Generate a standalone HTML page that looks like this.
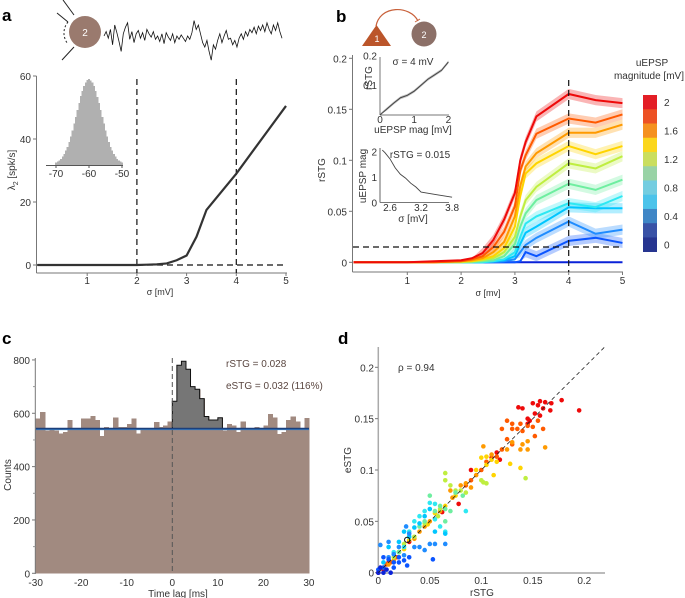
<!DOCTYPE html>
<html><head><meta charset="utf-8"><style>
html,body{margin:0;padding:0;background:#fff;}
svg{display:block;font-family:"Liberation Sans",Arial,sans-serif;}
</style></head><body>
<svg id="fig" width="685" height="598" viewBox="0 0 685 598" xmlns="http://www.w3.org/2000/svg">
<g id="A"></g>
<g id="B"></g>
<g id="C"></g>
<g id="D"></g>
</svg>
<script>
// ---------- data ----------
// panel a
const aSigma = [0, 0.5, 1, 1.5, 2, 2.2, 2.4, 2.6, 2.8, 3.0, 3.2, 3.4, 4, 5];
const aRate = [0, 0, 0, 0, 0, 0.1, 0.2, 0.5, 1.5, 3, 9, 17.5, 29, 50.5];
const aYTicks = [0, 20, 40, 60];
const aXTicks = [1, 2, 3, 4, 5];
const histCenters = [-70,-69.5,-69,-68.5,-68,-67.5,-67,-66.5,-66,-65.5,-65,-64.5,-64,-63.5,-63,-62.5,-62,-61.5,-61,-60.5,-60,-59.5,-59,-58.5,-58,-57.5,-57,-56.5,-56,-55.5,-55,-54.5,-54,-53.5,-53,-52.5,-52,-51.5,-51,-50.5,-50];
const histVals = [0.03,0.04,0.05,0.07,0.1,0.13,0.17,0.21,0.27,0.33,0.4,0.48,0.56,0.64,0.72,0.8,0.86,0.92,0.96,0.99,1.0,0.98,0.96,0.92,0.86,0.79,0.72,0.64,0.56,0.48,0.4,0.33,0.27,0.21,0.17,0.13,0.1,0.07,0.05,0.04,0.03];
const traceVals = [0,4,-2,6,-8,10,3,-5,-14,2,8,12,-3,4,-6,2,5,-2,3,-4,6,2,-1,4,-3,0,-5,2,-7,3,-1,-4,2,-6,0,-3,1,-2,-5,0,-3,3,14,6,10,2,-6,-10,-4,-14,-22,-8,-12,-4,2,-6,0,5,-3,-2,-8,-4,-10,-2,2,-3,4,0,6,3,8,2,9,5,10,4,12,6,2,10,5,12,4,-2];
// panel b
const bSigma = [0, 0.5, 1, 1.5, 2, 2.2, 2.4, 2.6, 2.8, 3.0, 3.1, 3.2, 3.4, 4, 4.5, 5];
const bMags = [0, 0.2, 0.4, 0.6, 0.8, 1.0, 1.2, 1.4, 1.6, 1.8, 2.0];
const bSeries = [
 [0,0,0,0,0,0,0,0,0,0,0,0,0,0,0,0],
 [0,0,0,0,0,0,0,0,0,0,0.001,0.01,0.006,0.021,0.024,0.019],
 [0,0,0,0,0,0,0,0,0.001,0.003,0.01,0.017,0.024,0.040,0.028,0.032],
 [0,0,0,0,0,0,0,0.001,0.002,0.006,0.018,0.029,0.035,0.054,0.053,0.053],
 [0,0,0,0,0,0,0,0.001,0.003,0.01,0.025,0.038,0.045,0.058,0.054,0.065],
 [0,0,0,0,0,0,0.001,0.002,0.006,0.018,0.035,0.048,0.061,0.077,0.071,0.081],
 [0,0,0,0,0,0.001,0.002,0.004,0.01,0.025,0.045,0.061,0.074,0.097,0.092,0.104],
 [0,0,0,0,0.001,0.001,0.003,0.006,0.014,0.035,0.065,0.087,0.097,0.114,0.106,0.114],
 [0,0,0,0,0.001,0.002,0.004,0.01,0.02,0.045,0.075,0.094,0.107,0.127,0.127,0.135],
 [0,0,0,0,0.001,0.003,0.006,0.015,0.03,0.055,0.09,0.105,0.126,0.141,0.137,0.145],
 [0,0,0,0.001,0.002,0.004,0.009,0.022,0.042,0.068,0.1,0.118,0.143,0.165,0.159,0.156]
];
const bYTicks = [0, 0.05, 0.1, 0.15, 0.2];
const bYTickLabels = ["0", "0.05", "0.1", "0.15", "0.2"];
const bXTicks = [1, 2, 3, 4, 5];
const lineColors = ["#0a22d8","#0b55ff","#1f8cff","#00c6ff","#2ee8f2","#6eeea0","#bfee40","#ffd400","#ff9a00","#ff5a00","#ee0a0a"];
const barColors = ["#273590","#3952a6","#3f86c6","#4cc3ea","#74cde0","#99d3a6","#cade5e","#fbd61c","#f5911f","#ed5124","#e31e26"];
const cbLabels = ["2", "1.6", "1.2", "0.8", "0.4", "0"];
const in1Mag = [0, 0.2, 0.4, 0.6, 0.8, 1.0, 1.2, 1.4, 1.6, 1.8, 2.0];
const in1Val = [0, 0.02, 0.04, 0.058, 0.066, 0.08, 0.1, 0.12, 0.135, 0.15, 0.178];
const in2Sigma = [2.45, 2.5, 2.6, 2.7, 2.8, 2.9, 3.0, 3.1, 3.2, 3.5, 3.8];
const in2Mag = [2.05, 1.95, 1.7, 1.35, 1.1, 0.95, 0.75, 0.6, 0.4, 0.3, 0.2];
// panel c
const cBins = [-30,-29,-28,-27,-26,-25,-24,-23,-22,-21,-20,-19,-18,-17,-16,-15,-14,-13,-12,-11,-10,-9,-8,-7,-6,-5,-4,-3,-2,-1,0,1,2,3,4,5,6,7,8,9,10,11,12,13,14,15,16,17,18,19,20,21,22,23,24,25,26,27,28,29];
const cCounts = [580,605,536,540,535,525,530,575,540,540,580,580,590,575,515,548,540,585,548,548,560,580,525,540,538,540,568,548,555,570,645,780,795,765,700,690,655,588,575,575,583,535,560,555,530,570,540,540,548,540,555,598,585,522,530,575,588,570,540,582];
const cExcessStart = 0, cExcessEnd = 11;
const cBaseline = 542;
const cYTicks = [0, 200, 400, 600, 800];
const cXTicks = [-30, -20, -10, 0, 10, 20, 30];
// panel d
const dX = [0.14,0.145,0.15,0.155,0.157,0.16,0.162,0.168,0.167,0.178,0.195,0.152,0.147,0.115,0.11,0.118,0.09,0.078,0.062,0.03,0.01,0,0.005,0.136,0.145,0.157,
 0.125,0.13,0.135,0.14,0.145,0.15,0.155,0.16,0.125,0.13,0.12,0.115,0.105,0.1,0.09,0.085,0.13,0.12,0.138,0.152,0.008,0.012,0.018,0.02,
 0.125,0.13,0.14,0.145,0.138,0.145,0.162,0.102,0.11,0.095,0.085,0.09,0.08,0.07,0.072,0.06,0.05,0.04,0.035,0.045,0.02,0.015,0.01,0.005,
 0.1,0.105,0.11,0.115,0.105,0.128,0.138,0.112,0.095,0.075,0.065,0.055,0.048,0.03,0.02,0.025,
 0.065,0.065,0.07,0.075,0.08,0.1,0.102,0.105,0.143,0.085,0.06,0.058,0.045,0.035,0.025,0.015,
 0.05,0.06,0.065,0.07,0.055,0.045,0.04,0.03,0.065,0.02,0.075,0.082,
 0.05,0.055,0.045,0.04,0.035,0.03,0.06,0.085,0.065,0.025,0.015,0.055,
 0.05,0.045,0.04,0.035,0.025,0.02,0.01,0.015,0.005,0.03,0.055,0.065,
 0.027,0.03,0.035,0.04,0.045,0.05,0.055,0.065,0.02,0.015,0.01,0.002,0.025,0.01,
 0.005,0.01,0.015,0.02,0.025,0.028,0.03,0.015,0.005,0,0.053,0.02,
 0,0.005,0.012,0.002,0.008];
const dY = [0.16,0.15,0.165,0.163,0.167,0.16,0.166,0.165,0.158,0.168,0.158,0.155,0.148,0.117,0.112,0.11,0.1,0.067,0.059,0.03,0.01,0,0.003,0.161,0.145,0.153,
 0.148,0.14,0.14,0.138,0.143,0.142,0.148,0.14,0.13,0.125,0.12,0.113,0.108,0.1,0.09,0.085,0.145,0.14,0.145,0.133,0.008,0.01,0.015,0.02,
 0.12,0.127,0.125,0.128,0.12,0.12,0.122,0.123,0.115,0.095,0.087,0.083,0.085,0.08,0.073,0.06,0.05,0.04,0.033,0.045,0.02,0.012,0.008,0.005,
 0.112,0.113,0.11,0.108,0.105,0.106,0.102,0.095,0.1,0.075,0.065,0.058,0.047,0.032,0.02,0.023,
 0.097,0.09,0.085,0.08,0.08,0.09,0.088,0.087,0.092,0.078,0.062,0.055,0.048,0.035,0.028,0.015,
 0.075,0.065,0.062,0.06,0.06,0.05,0.045,0.035,0.05,0.02,0.078,0.075,
 0.068,0.067,0.06,0.055,0.05,0.04,0.045,0.06,0.04,0.025,0.02,0.052,
 0.062,0.055,0.048,0.044,0.04,0.03,0.025,0.018,0.01,0.035,0.04,0.038,
 0.045,0.038,0.025,0.025,0.022,0.028,0.028,0.028,0.025,0.018,0.03,0.027,0.017,0.015,
 0.015,0.013,0.01,0.015,0.012,0.007,0.015,0.005,0.005,0.003,0.013,0.01,
 0,0,0,0.005,0.003];
const dLevel = [].concat(Array(26).fill(10),Array(24).fill(9),Array(24).fill(8),Array(16).fill(7),Array(16).fill(6),Array(12).fill(5),Array(12).fill(4),Array(12).fill(3),Array(14).fill(2),Array(12).fill(1),Array(5).fill(0));
const dTicks = [0, 0.05, 0.1, 0.15, 0.2];
const dTickLabels = ["0", "0.05", "0.1", "0.15", "0.2"];

// ---------- helpers ----------
const NS = "http://www.w3.org/2000/svg";
function mk(parent, tag, attrs, text) {
  const e = document.createElementNS(NS, tag);
  for (const k in attrs) e.setAttribute(k, attrs[k]);
  if (text !== undefined) e.textContent = text;
  parent.appendChild(e);
  return e;
}
function pathD(xs, ys) { return xs.map((x, i) => (i ? "L" : "M") + x.toFixed(2) + "," + ys[i].toFixed(2)).join(""); }

// ---------- panel a ----------
(function () {
  const g = document.getElementById("A");
  const xs = v => 37.5 + v * 49.7, ys = v => 265 - v * 3.15;
  let t = mk(g, "text", {x: 2, y: 21, "font-size": 17, "font-weight": "bold"}, "a");
  
  
  const ng = mk(g, "g", {});
  
  
  mk(ng, "circle", {cx: 85, cy: 32, r: 16, fill: "#9a7a6e"});
  mk(ng, "text", {x: 85, y: 36, "font-size": 10, fill: "#fff", "text-anchor": "middle"}, "2");
  mk(ng, "path", {d: "M68,22 A17,17 0 0 0 68,44", fill: "none", stroke: "#222", "stroke-dasharray": "2,2"});
  mk(ng, "line", {x1: 63, y1: 0, x2: 74, y2: 15, stroke: "#222"});
  mk(ng, "line", {x1: 57, y1: 13, x2: 68, y2: 22, stroke: "#222"});
  mk(ng, "line", {x1: 62, y1: 60, x2: 74, y2: 47, stroke: "#222"});
  const tx = traceVals.map((v, i) => 104 + i * 178 / (traceVals.length - 1));
  const ty = traceVals.map(v => 36 - v * 1.1);
  let tr = mk(g, "path", {d: pathD(tx, ty), fill: "none", stroke: "#111", "stroke-width": 0.8});
  
  
  mk(g, "line", {x1: 36.5, y1: 76, x2: 36.5, y2: 273, stroke: "#777"});
  mk(g, "line", {x1: 36.5, y1: 273, x2: 287, y2: 273, stroke: "#777"});
  aYTicks.forEach(v => {
    mk(g, "line", {x1: 33, y1: ys(v), x2: 36.5, y2: ys(v), stroke: "#777"});
    let l = mk(g, "text", {x: 31, y: ys(v) + 4, "font-size": 10, "text-anchor": "end", fill: "#333"}, String(v));
    
    
  });
  aXTicks.forEach(v => {
    mk(g, "line", {x1: xs(v), y1: 273, x2: xs(v), y2: 276, stroke: "#777"});
    let l = mk(g, "text", {x: xs(v), y: 284, "font-size": 10, "text-anchor": "middle", fill: "#333"}, String(v));
    
    
  });
  let xl = mk(g, "text", {x: 160, y: 295, "font-size": 9, "text-anchor": "middle", fill: "#333"}, "σ [mV]");
  
  
  let yl = mk(g, "text", {x: 0, y: 0, "font-size": 10, "text-anchor": "middle", fill: "#333", transform: "translate(15,170) rotate(-90)"});
  
  
  mk(yl, "tspan", {}, "λ");
  mk(yl, "tspan", {"font-size": 7, dy: 3}, "2");
  mk(yl, "tspan", {dy: -3}, " [spk/s]");
  [2, 4].forEach(v => mk(g, "line", {x1: xs(v), y1: 79, x2: xs(v), y2: 273, stroke: "#111", "stroke-dasharray": "6,4", "stroke-width": 1.2}));
  mk(g, "line", {x1: 37, y1: ys(0), x2: 287, y2: ys(0), stroke: "#111", "stroke-dasharray": "6,4", "stroke-width": 1.2});
  let c = mk(g, "path", {d: pathD(aSigma.map(xs), aRate.map(ys)), fill: "none", stroke: "#333", "stroke-width": 2.2});
  
  
  const hx = v => 89 + (v + 60) * 3.3, hy = v => 165 - v * 86;
  const hg = mk(g, "g", {"shape-rendering": "crispEdges"});
  
  
  histCenters.forEach((c0, i) => {
    mk(hg, "rect", {x: hx(c0 - 0.25), y: hy(histVals[i]), width: 1.9, height: 165 - hy(histVals[i]), fill: "#b0b0b0"});
  });
  mk(hg, "line", {x1: 46, y1: 165.5, x2: 123, y2: 165.5, stroke: "#555"});
  [-70, -60, -50].forEach(v => {
    mk(hg, "line", {x1: hx(v), y1: 165.5, x2: hx(v), y2: 168, stroke: "#555"});
    mk(hg, "text", {x: hx(v), y: 177, "font-size": 10, "text-anchor": "middle", fill: "#333"}, String(v));
  });
})();

// ---------- panel b ----------
(function () {
  const g = document.getElementById("B");
  const xs = v => 353.5 + v * 53.8, ys = v => 262.3 - v * 1020;
  let t = mk(g, "text", {x: 336, y: 22, "font-size": 17, "font-weight": "bold"}, "b");
  
  
  const mg = mk(g, "g", {});
  
  
  mk(mg, "polygon", {points: "376.5,25 391,46 362,46", fill: "#bb552a"});
  mk(mg, "text", {x: 377, y: 42, "font-size": 9, fill: "#fff", "text-anchor": "middle"}, "1");
  mk(mg, "path", {d: "M376,26 C380,5 410,5 418,21", fill: "none", stroke: "#c8603a", "stroke-width": 1.2});
  mk(mg, "line", {x1: 415, y1: 22, x2: 420, y2: 19, stroke: "#c8603a"});
  mk(mg, "circle", {cx: 424, cy: 34, r: 12.5, fill: "#8c7068"});
  mk(mg, "text", {x: 424, y: 38, "font-size": 9, fill: "#fff", "text-anchor": "middle"}, "2");
  mk(g, "line", {x1: 352.5, y1: 55, x2: 352.5, y2: 272, stroke: "#777"});
  mk(g, "line", {x1: 352.5, y1: 272, x2: 623, y2: 272, stroke: "#777"});
  bYTicks.forEach((v, i) => {
    mk(g, "line", {x1: 349, y1: ys(v), x2: 352.5, y2: ys(v), stroke: "#777"});
    let l = mk(g, "text", {x: 347, y: ys(v) + 4, "font-size": 10, "text-anchor": "end", fill: "#333"}, bYTickLabels[i]);
    
    
  });
  bXTicks.forEach(v => {
    mk(g, "line", {x1: xs(v), y1: 272, x2: xs(v), y2: 275, stroke: "#777"});
    let l = mk(g, "text", {x: xs(v), y: 284, "font-size": 10, "text-anchor": "middle", fill: "#333"}, String(v));
    
    
  });
  let xl = mk(g, "text", {x: 488, y: 296, "font-size": 9, "text-anchor": "middle", fill: "#333"}, "σ [mv]");
  
  
  let yl = mk(g, "text", {x: 0, y: 0, "font-size": 10, "text-anchor": "middle", fill: "#333", transform: "translate(325,170) rotate(-90)"}, "rSTG");
  
  
  bSeries.forEach((s, k) => {
    const bw = 0.002 + 0.003 * (s[13] > 0 ? 1 : 0);
    const up = s.map(v => ys(v + (v > 0.005 ? bw : 0)));
    const dn = s.map(v => ys(Math.max(0, v - (v > 0.005 ? bw : 0))));
    const X = bSigma.map(xs);
    let d = pathD(X, up) + pathD(X.slice().reverse(), dn.slice().reverse()).replace("M", "L") + "Z";
    let band = mk(g, "path", {d: d, fill: lineColors[k], opacity: 0.3});
    
    
  });
  bSeries.forEach((s, k) => {
    let l = mk(g, "path", {d: pathD(bSigma.map(xs), s.map(ys)), fill: "none", stroke: lineColors[k], "stroke-width": 2});
    
    
  });
  mk(g, "line", {x1: 353, y1: ys(0.015), x2: 623, y2: ys(0.015), stroke: "#111", "stroke-dasharray": "6,4", "stroke-width": 1.2});
  mk(g, "line", {x1: xs(4), y1: 80, x2: xs(4), y2: 272, stroke: "#111", "stroke-dasharray": "6,4", "stroke-width": 1.2});
  const cb = mk(g, "g", {});
  
  
  const bh = 156.7 / barColors.length;
  barColors.slice().reverse().forEach((c, i) => mk(cb, "rect", {x: 643, y: 95 + i * bh, width: 14, height: bh + 0.3, fill: c}));
  cbLabels.forEach((s, i) => mk(cb, "text", {x: 664, y: 95 + bh * 0.5 + i * 2 * bh + 4, "font-size": 10, fill: "#333"}, s));
  let ct = mk(g, "text", {x: 652, y: 66, "font-size": 10, "text-anchor": "middle", fill: "#333"}, "uEPSP");
  
  
  mk(g, "text", {x: 684, y: 79, "font-size": 10, "text-anchor": "end", fill: "#333"}, "magnitude [mV]");
  const i1 = mk(g, "g", {});
  
  
  const ix = v => 380 + v * 34.2, iy = v => 115 - v * 298;
  mk(i1, "line", {x1: 380, y1: 57, x2: 380, y2: 115, stroke: "#777"});
  mk(i1, "line", {x1: 380, y1: 115, x2: 449, y2: 115, stroke: "#777"});
  mk(i1, "path", {d: pathD(in1Mag.map(ix), in1Val.map(v => iy(v + 0.005))) + pathD(in1Mag.slice().reverse().map(ix), in1Val.slice().reverse().map(v => iy(Math.max(0, v - 0.005)))).replace("M", "L") + "Z", fill: "#999", opacity: 0.6});
  mk(i1, "path", {d: pathD(in1Mag.map(ix), in1Val.map(iy)), fill: "none", stroke: "#444", "stroke-width": 1});
  [[0.1, "0.1"], [0.2, "0.2"]].forEach(p => mk(i1, "text", {x: 377, y: iy(p[0]) + 4, "font-size": 10, "text-anchor": "end", fill: "#333"}, p[1]));
  [0, 1, 2].forEach(v => mk(i1, "text", {x: ix(v), y: 123, "font-size": 10, "text-anchor": "middle", fill: "#333"}, String(v)));
  mk(i1, "text", {x: 0, y: 0, "font-size": 10, "text-anchor": "middle", fill: "#333", transform: "translate(372,78) rotate(-90)"}, "rSTG");
  mk(i1, "text", {x: 413, y: 65, "font-size": 10, "text-anchor": "middle", fill: "#333"}, "σ = 4 mV");
  mk(i1, "text", {x: 413, y: 133, "font-size": 10, "text-anchor": "middle", fill: "#333"}, "uEPSP mag [mV]");
  const i2 = mk(g, "g", {});
  
  
  const jx = v => 379.7 + (v - 2.4) * 51.7, jy = v => 202.3 - v * 25.5;
  mk(i2, "line", {x1: 380, y1: 148, x2: 380, y2: 202.5, stroke: "#999", "stroke-width": 1.5});
  mk(i2, "line", {x1: 380, y1: 202.5, x2: 449, y2: 202.5, stroke: "#777"});
  mk(i2, "path", {d: pathD(in2Sigma.map(jx), in2Mag.map(jy)), fill: "none", stroke: "#444", "stroke-width": 0.9});
  [[0, "0"], [1, "1"], [2, "2"]].forEach(p => mk(i2, "text", {x: 377, y: jy(p[0]) + 4, "font-size": 10, "text-anchor": "end", fill: "#333"}, p[1]));
  [2.6, 3.2, 3.8].forEach(v => mk(i2, "text", {x: jx(v), y: 211, "font-size": 10, "text-anchor": "middle", fill: "#333"}, v.toFixed(1)));
  mk(i2, "text", {x: 0, y: 0, "font-size": 10, "text-anchor": "middle", fill: "#333", transform: "translate(366,176) rotate(-90)"}, "uEPSP mag");
  mk(i2, "text", {x: 420, y: 158, "font-size": 10, "text-anchor": "middle", fill: "#333"}, "rSTG = 0.015");
  mk(i2, "text", {x: 413, y: 222, "font-size": 10, "text-anchor": "middle", fill: "#333"}, "σ [mV]");
})();

// ---------- panel c ----------
(function () {
  const g = document.getElementById("C");
  const xs = v => 172.3 + v * 4.555, ys = v => 573.3 - v * 0.2667;
  let t = mk(g, "text", {x: 2, y: 344, "font-size": 17, "font-weight": "bold"}, "c");
  
  
  const bg = mk(g, "g", {"shape-rendering": "crispEdges"});
  cBins.forEach((b, i) => {
    let r = mk(bg, "rect", {x: xs(b), y: ys(cCounts[i]), width: 5.2, height: 573.3 - ys(cCounts[i]), fill: "#a18a80"});
    
    
  });
  let ex = [], ey = [];
  ex.push(xs(cExcessStart)); ey.push(ys(cBaseline));
  cBins.forEach((b, i) => {
    if (b >= cExcessStart && b <= cExcessEnd - 1) {
      ex.push(xs(b)); ey.push(ys(cCounts[i]));
      ex.push(xs(b + 1)); ey.push(ys(cCounts[i]));
    }
  });
  ex.push(xs(cExcessEnd)); ey.push(ys(cBaseline));
  let exc = mk(g, "path", {d: pathD(ex, ey) + "Z", fill: "#767676", stroke: "#111", "stroke-width": 1});
  
  
  let bl = mk(g, "line", {x1: 35.7, y1: ys(cBaseline), x2: 309, y2: ys(cBaseline), stroke: "#1c3f7a", "stroke-width": 2});
  
  
  mk(g, "line", {x1: 35.7, y1: ys(cBaseline) + 1, x2: 309, y2: ys(cBaseline) + 1, stroke: "#3b82c9", "stroke-width": 0.8});
  mk(g, "line", {x1: xs(0), y1: 358, x2: xs(0), y2: 573, stroke: "#555", "stroke-dasharray": "5,3", "stroke-width": 1});
  mk(g, "line", {x1: 35.3, y1: 358, x2: 35.3, y2: 574, stroke: "#777"});
  cYTicks.forEach(v => {
    mk(g, "line", {x1: 32, y1: ys(v), x2: 35.3, y2: ys(v), stroke: "#777"});
    let l = mk(g, "text", {x: 30, y: ys(v) + 4, "font-size": 10, "text-anchor": "end", fill: "#333"}, String(v));
    
    
  });
  [100, 300, 500, 700].forEach(v => mk(g, "line", {x1: 33, y1: ys(v), x2: 35.3, y2: ys(v), stroke: "#999"}));
  cXTicks.forEach(v => {
    let l = mk(g, "text", {x: xs(v), y: 586, "font-size": 10, "text-anchor": "middle", fill: "#333"}, String(v));
    
    
  });
  let xl = mk(g, "text", {x: 178, y: 597, "font-size": 10, "text-anchor": "middle", fill: "#333"}, "Time lag [ms]");
  
  
  let yl = mk(g, "text", {x: 0, y: 0, "font-size": 10, "text-anchor": "middle", fill: "#333", transform: "translate(11,475) rotate(-90)"}, "Counts");
  
  
  let a1 = mk(g, "text", {x: 226, y: 367, "font-size": 10, fill: "#5a4640"}, "rSTG  = 0.028");
  
  
  let a2 = mk(g, "text", {x: 226, y: 389, "font-size": 10, fill: "#5a4640"}, "eSTG  = 0.032 (116%)");
  
  
})();

// ---------- panel d ----------
(function () {
  const g = document.getElementById("D");
  const xs = v => 378.3 + v * 1030, ys = v => 572.7 - v * 1027;
  let t = mk(g, "text", {x: 338, y: 344, "font-size": 17, "font-weight": "bold"}, "d");
  
  
  mk(g, "line", {x1: 378.3, y1: 347, x2: 378.3, y2: 573, stroke: "#aaa", "stroke-width": 1.5});
  mk(g, "line", {x1: 378.3, y1: 573, x2: 605, y2: 573, stroke: "#777"});
  dTicks.forEach((v, i) => {
    mk(g, "line", {x1: 375, y1: ys(v), x2: 378, y2: ys(v), stroke: "#777"});
    let l = mk(g, "text", {x: 374, y: ys(v) + 4, "font-size": 10, "text-anchor": "end", fill: "#333"}, dTickLabels[i]);
    
    
    let m = mk(g, "text", {x: xs(v), y: 584, "font-size": 10, "text-anchor": "middle", fill: "#333"}, dTickLabels[i]);
    
    
  });
  let xl = mk(g, "text", {x: 482, y: 596, "font-size": 10, "text-anchor": "middle", fill: "#333"}, "rSTG");
  
  
  let yl = mk(g, "text", {x: 0, y: 0, "font-size": 10, "text-anchor": "middle", fill: "#333", transform: "translate(351,460) rotate(-90)"}, "eSTG");
  
  
  let rho = mk(g, "text", {x: 398, y: 371, "font-size": 10, fill: "#333"}, "ρ = 0.94");
  
  
  dX.forEach((x, i) => {
    let c = mk(g, "circle", {cx: xs(x), cy: ys(dY[i]), r: 2.3, fill: lineColors[dLevel[i]]});
    
    
  });
  let idl = mk(g, "line", {x1: xs(0), y1: ys(0), x2: xs(0.22), y2: ys(0.22), stroke: "#222", "stroke-dasharray": "4,3", "stroke-width": 0.8});
  
  
  mk(g, "circle", {cx: xs(0.028), cy: ys(0.032), r: 2.6, fill: "none", stroke: "#111", "stroke-width": 1});
})();
</script>
</body></html>
